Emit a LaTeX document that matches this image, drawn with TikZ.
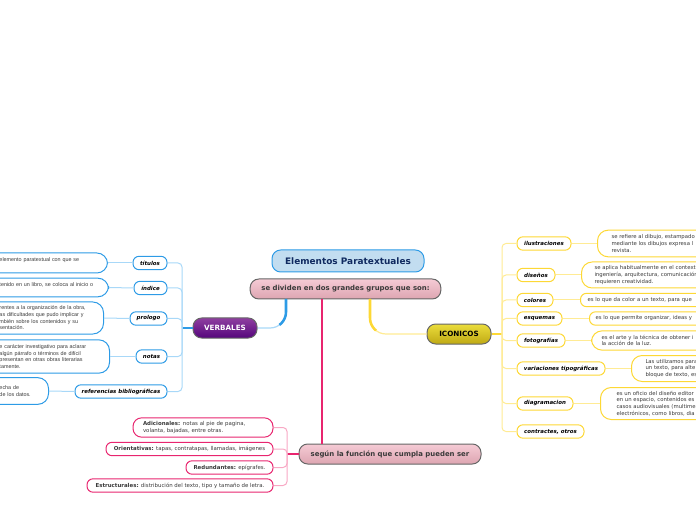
\documentclass[tikz,border=0pt]{standalone}
\usepackage{fontspec}
\setmainfont{DejaVu Sans}
\newfontfamily\leftfont{Liberation Sans}
\usepackage{xcolor}
\definecolor{bluedark}{HTML}{2D9BE6}
\definecolor{bluepale}{HTML}{A8D8F8}
\definecolor{yeldark}{HTML}{FDD835}
\definecolor{yelpale}{HTML}{FFEB94}
\definecolor{pinkdark}{HTML}{E8256F}
\definecolor{pinkpale}{HTML}{F8A8C4}
\definecolor{inktext}{HTML}{3A3A3A}
\definecolor{rosetop}{HTML}{F5CBD5}
\definecolor{rosebot}{HTML}{DDA5B1}
\definecolor{violtop}{HTML}{8F3FA0}
\definecolor{violbot}{HTML}{55067C}
\definecolor{goldtop}{HTML}{EBDD3C}
\definecolor{goldbot}{HTML}{BFA914}
\definecolor{titlefill}{HTML}{C2DDF0}
\definecolor{titleink}{HTML}{102A60}
\begin{document}
\begin{tikzpicture}[x=0.75pt,y=-0.75pt,
    mainnode/.style={shape=rectangle,rounded corners=6.5pt,draw=black!60,line width=0.75pt,inner sep=0pt,minimum height=15pt},
    pinknode/.style={mainnode,top color=rosetop,bottom color=rosebot,text=inktext,font=\bfseries\fontsize{5.2pt}{6pt}\selectfont},
    childnode/.style={shape=rectangle,rounded corners=4.5pt,fill=white,line width=0.75pt,inner sep=0pt,minimum height=10pt,font=\bfseries\itshape\fontsize{4.1pt}{5pt}\selectfont},
    leafnode/.style={shape=rectangle,rounded corners=8pt,fill=white,line width=0.75pt,inner ysep=0pt,align=left,text=inktext,font=\fontsize{4pt}{5pt}\selectfont},
    lefttxt/.style={leafnode,draw=bluedark,anchor=east,inner xsep=9pt,font=\leftfont\fontsize{4.05pt}{5pt}\selectfont},
    bottomleaf/.style={shape=rectangle,rounded corners=4.5pt,fill=white,draw=pinkdark,line width=0.75pt,inner sep=0pt,minimum height=10pt,align=left,text=inktext,font=\fontsize{4.07pt}{5.4pt}\selectfont},
    bluethin/.style={draw=bluepale,line width=0.75pt,rounded corners=3pt},
    yelthin/.style={draw=yelpale,line width=0.75pt,rounded corners=3pt},
    pinkthin/.style={draw=pinkpale,line width=0.75pt,rounded corners=3pt}]
      \useasboundingbox (0,0) rectangle (696,520);
      \clip (0,0) rectangle (696,520);

      % middle of the map
      \node[mainnode,draw=bluedark,fill=titlefill,minimum width=114pt,minimum height=16.5pt,text=titleink,font=\bfseries\fontsize{6.7pt}{7pt}\selectfont] (title) at (348,261) {Elementos Paratextuales};
      \node[pinknode,minimum width=143pt] (grupos) at (345.5,289) {se dividen en dos grandes grupos que son:};
      \node[mainnode,top color=violtop,bottom color=violbot,text=white,minimum width=48pt,font=\bfseries\fontsize{5.4pt}{6pt}\selectfont] (verbales) at (225,328) {VERBALES};
      \node[mainnode,top color=goldtop,bottom color=goldbot,text=black,minimum width=48pt,font=\bfseries\fontsize{5.4pt}{6pt}\selectfont] (iconicos) at (459,334) {ICONICOS};
      \node[pinknode,minimum width=136.5pt] (funcion) at (390,454) {según la función que cumpla pueden ser};

      \coordinate (gruposv) at (286,299);
      \coordinate (gruposi) at (370,299);
      \coordinate (gruposf) at (322,299);
      \coordinate (funcionf) at (322,444);
      \coordinate (spinev) at (182,328);
      \coordinate (spinei) at (502,334);
      \coordinate (spinef) at (287,454);

      \draw[draw=bluepale,line width=0.9pt,rounded corners=12pt] (gruposv) |- (verbales.east);
      \draw[draw=bluedark,line width=1.9pt,rounded corners=12pt,dash pattern=on 21pt off 200pt] (gruposv) |- (verbales.east);
      \draw[draw=yelpale,line width=0.9pt,rounded corners=12pt] (gruposi) |- (iconicos.west);
      \draw[draw=yeldark,line width=1.9pt,rounded corners=12pt,dash pattern=on 25pt off 200pt] (gruposi) |- (iconicos.west);
      \draw[draw=pinkdark,line width=2.2pt] (gruposf) -- (funcionf);
      \draw[draw=bluedark,line width=1.4pt] (verbales.west) -- (spinev);
      \draw[draw=yeldark,line width=1.4pt] (iconicos.east) -- (spinei);
      \draw[draw=pinkdark,line width=1.4pt] (funcion.west) -- (spinef);

      % left branch
      \node[childnode,draw=bluedark,minimum width=25.5pt] (titulos) at (150,263) {títulos};
      \node[childnode,draw=bluedark,minimum width=24.75pt] (indice) at (150.5,288) {índice};
      \node[childnode,draw=bluedark,minimum width=27.75pt] (prologo) at (148.5,318.5) {prologo};
      \node[childnode,draw=bluedark,minimum width=23.25pt] (notas) at (151.5,356.5) {notas};
      \node[childnode,draw=bluedark,minimum width=69pt] (referencias) at (121,391.5) {referencias bibliográficas};

      \node[lefttxt,text width=72pt,minimum height=15pt] (titulostxt) at (108,263) {elemento paratextual con que se\\\mbox{}};
      \node[lefttxt,text width=72.75pt,minimum height=14pt] (indicetxt) at (109,287.5) {tenido en un libro, se coloca al inicio o\\\mbox{}};
      \node[lefttxt,text width=69pt,minimum height=24pt] (prologotxt) at (104,318) {rentes a la organización de la obra,\\as dificultades que pudo implicar y\\mbién sobre los contenidos y su\\sentación.};
      \node[lefttxt,text width=73.5pt,minimum height=25pt] (notastxt) at (110,356.5) {e carácter investigativo para aclarar\\algún párrafo o términos de difícil\\ presentan en otras obras literarias\\tamente.};
      \node[lefttxt,text width=27.75pt,minimum height=20pt] (referenciastxt) at (49,391) {echa de\\de los datos.};

      \draw[bluethin] (spinev) |- (titulos.east);
      \draw[bluethin] (spinev) |- (indice.east);
      \draw[bluethin] (spinev) |- (prologo.east);
      \draw[bluethin] (spinev) |- (notas.east);
      \draw[bluethin] (spinev) |- (referencias.east);
      \draw[bluethin] (titulos.west) -- (titulostxt.east);
      \draw[bluethin] (indice.west) -- (indicetxt.east);
      \draw[bluethin] (prologo.west) -- (prologotxt.east);
      \draw[bluethin] (notas.west) -- (notastxt.east);
      \draw[bluethin] (referencias.west) -- (referenciastxt.east);

      % right branch
      \node[childnode,draw=yeldark,minimum width=40.5pt] (ilustraciones) at (544,243.5) {ilustraciones};
      \node[childnode,draw=yeldark,minimum width=28.5pt] (disenos) at (536,275) {diseños};
      \node[childnode,draw=yeldark,minimum width=27pt] (colores) at (535,300) {colores};
      \node[childnode,draw=yeldark,minimum width=33.75pt] (esquemas) at (539.5,318.5) {esquemas};
      \node[childnode,draw=yeldark,minimum width=36pt] (fotografias) at (541,340.5) {fotografías};
      \node[childnode,draw=yeldark,minimum width=66pt] (variaciones) at (561,368.5) {variaciones tipográficas};
      \node[childnode,draw=yeldark,minimum width=42pt] (diagramacion) at (545,403.5) {diagramacion};
      \node[childnode,draw=yeldark,minimum width=50.25pt] (contractes) at (550.5,431.5) {contractes, otros};

      \node[leafnode,draw=yeldark,anchor=west,text width=150pt,inner xsep=10.5pt,minimum height=20pt] (ilustracionestxt) at (597,243.5) {se refiere al dibujo, estampado\\mediante los dibujos expresa l\\revista.};
      \node[leafnode,draw=yeldark,anchor=west,text width=150pt,inner xsep=9.75pt,minimum height=19.5pt] (disenostxt) at (581,275) {se aplica habitualmente en el contexto\\ingeniería, arquitectura, comunicación\\requieren creatividad.};
      \node[leafnode,draw=yeldark,anchor=west,text width=150pt,inner xsep=5.25pt,minimum height=10pt,rounded corners=4.5pt] (colorestxt) at (580,300) {es lo que da color a un texto, para que};
      \node[leafnode,draw=yeldark,anchor=west,text width=150pt,inner xsep=4.5pt,minimum height=10pt,rounded corners=4.5pt] (esquemastxt) at (589,318.5) {es lo que permite organizar, ideas y};
      \node[leafnode,draw=yeldark,anchor=west,text width=150pt,inner xsep=7.5pt,minimum height=14.5pt] (fotografiastxt) at (591,340.5) {es el arte y la técnica de obtener i\\la acción de la luz.};
      \node[leafnode,draw=yeldark,anchor=west,text width=150pt,inner xsep=10.5pt,minimum height=19.5pt] (variacionestxt) at (631,368.5) {Las utilizamos para\\un texto, para alte\\bloque de texto, es};
      \node[leafnode,draw=yeldark,anchor=west,text width=150pt,inner xsep=12pt,minimum height=24pt] (diagramaciontxt) at (600,403.5) {es un oficio del diseño editor\\en un espacio, contenidos es\\casos audiovisuales (multime\\electrónicos, como libros, dia};

      \draw[yelthin] (spinei) |- (ilustraciones.west);
      \draw[yelthin] (spinei) |- (disenos.west);
      \draw[yelthin] (spinei) |- (colores.west);
      \draw[yelthin] (spinei) |- (esquemas.west);
      \draw[yelthin] (spinei) |- (fotografias.west);
      \draw[yelthin] (spinei) |- (variaciones.west);
      \draw[yelthin] (spinei) |- (diagramacion.west);
      \draw[yelthin] (spinei) |- (contractes.west);
      \draw[yelthin] (ilustraciones.east) -- (ilustracionestxt.west);
      \draw[yelthin] (disenos.east) -- (disenostxt.west);
      \draw[yelthin] (colores.east) -- (colorestxt.west);
      \draw[yelthin] (esquemas.east) -- (esquemastxt.west);
      \draw[yelthin] (fotografias.east) -- (fotografiastxt.west);
      \draw[yelthin] (variaciones.east) -- (variacionestxt.west);
      \draw[yelthin] (diagramacion.east) -- (diagramaciontxt.west);

      % bottom branch
      \node[bottomleaf,text width=90pt,inner xsep=7.5pt,minimum height=14.5pt,rounded corners=6.5pt] (adicionales) at (203,427.5) {\textbf{Adicionales:} notas al pie de pagina,\\volanta, bajadas, entre otras.};
      \node[bottomleaf,minimum width=125.25pt] (orientativas) at (189.5,449) {\textbf{Orientativas:} tapas, contratapas, llamadas, imágenes};
      \node[bottomleaf,minimum width=65.25pt] (redundantes) at (229.5,467.5) {\textbf{Redundantes:} epígrafes.};
      \node[bottomleaf,minimum width=139.5pt] (estructurales) at (180,485.5) {\textbf{Estructurales:} distribución del texto, tipo y tamaño de letra.};

      \draw[pinkthin] (spinef) |- (adicionales.east);
      \draw[pinkthin] (spinef) |- (orientativas.east);
      \draw[pinkthin] (spinef) |- (redundantes.east);
      \draw[pinkthin] (spinef) |- (estructurales.east);
    \end{tikzpicture}
\end{document}
